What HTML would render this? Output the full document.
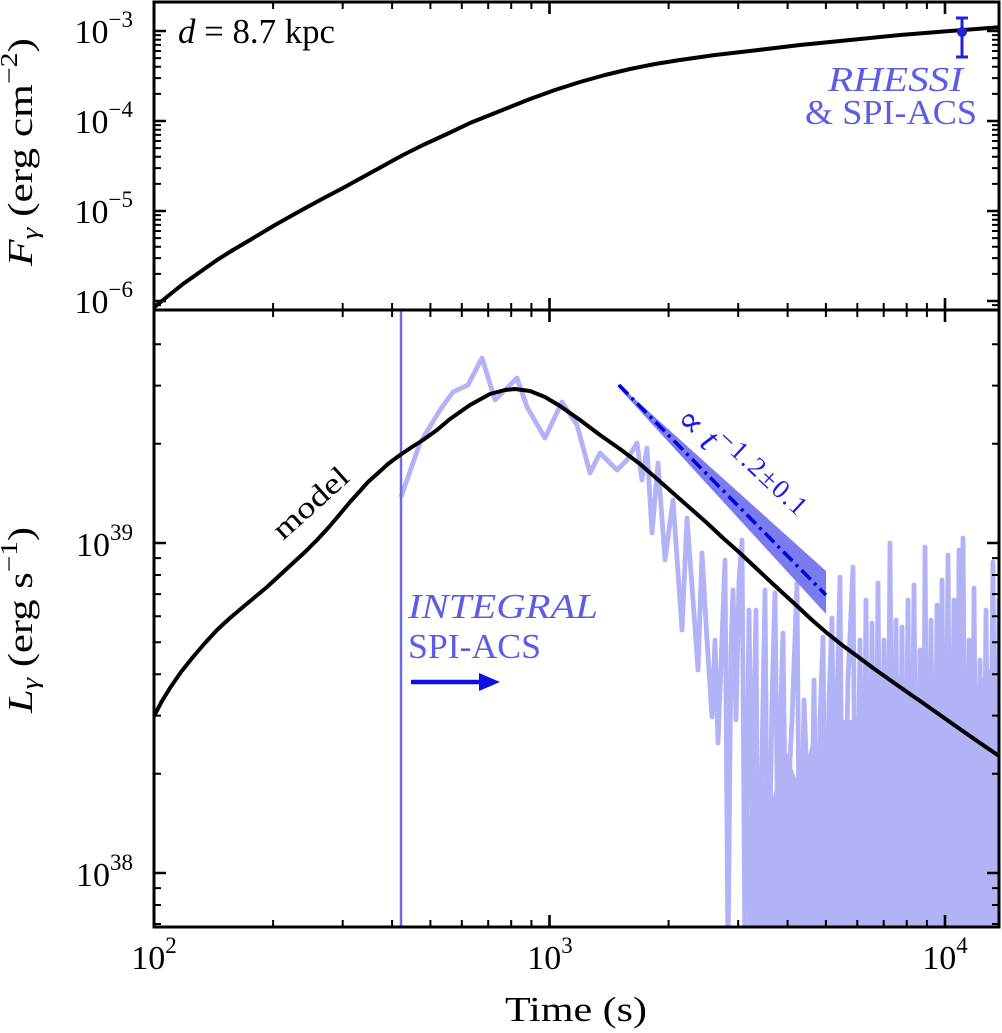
<!DOCTYPE html>
<html>
<head>
<meta charset="utf-8">
<style>
  html,body{margin:0;padding:0;background:#fff;}
  svg{display:block;}
  text{font-family:"Liberation Serif","DejaVu Serif",serif;}
</style>
</head>
<body>
<svg width="1002" height="1033" viewBox="0 0 1002 1033" xmlns="http://www.w3.org/2000/svg">
  <defs>
    <clipPath id="cTop"><rect x="154" y="2" width="845" height="308"/></clipPath>
    <clipPath id="cBot"><rect x="154" y="310" width="845" height="617"/></clipPath>
  </defs>
  <rect width="1002" height="1033" fill="#fff"/>

  <!-- ===== TOP PANEL ===== -->
  <g clip-path="url(#cTop)">
    <polyline fill="none" stroke="#000" stroke-width="4" stroke-linejoin="round"
      points="152,309 168,296 183,284 200,272 217,260 233,250 250,240 275,225 300,211 322,199 343,188 363,177 383,166 403,155 423,145 447,134 470,123 500,111 530,99 555,90 580,82 605,75 630,69 655,64 680,60 715,55 750,51 800,45 850,40 900,35 950,31 1002,27"/>
  </g>
  <!-- data point -->
  <g stroke="#2222dd" stroke-width="3" fill="#2222dd">
    <line x1="962" y1="18" x2="962" y2="57"/>
    <line x1="956" y1="18" x2="968" y2="18"/>
    <line x1="956" y1="57" x2="968" y2="57"/>
    <circle cx="962" cy="32" r="5" stroke="none"/>
  </g>
  <text x="178" y="43" font-size="35" textLength="157" lengthAdjust="spacingAndGlyphs"><tspan font-style="italic">d</tspan> = 8.7 kpc</text>
  <text x="828" y="91" font-size="35" font-style="italic" fill="#5c5ce6" textLength="135" lengthAdjust="spacingAndGlyphs">RHESSI</text>
  <text x="805" y="124" font-size="35" fill="#5c5ce6" textLength="172" lengthAdjust="spacingAndGlyphs">&amp; SPI-ACS</text>

  <!-- ===== BOTTOM PANEL ===== -->
  <g clip-path="url(#cBot)">
    <!-- dense fill regions under noisy tail -->
    <polygon fill="#b2b2f7" points="856,720 870,690 885,705 900,672 915,700 930,668 945,690 960,662 975,688 990,668 1002,680 1002,930 856,930"/>
    <polygon fill="#b2b2f7" points="748,820 760,770 772,800 786,750 800,790 812,740 826,770 840,720 856,720 856,930 748,930"/>
    <!-- noisy data -->
    <polyline fill="none" stroke="#b2b2f7" stroke-width="4.8" stroke-linejoin="round"
      points="401,497 420,443 440,410 453,392 468,385 482,358 495,400 517,378 527,407 545,438 562,402 577,425 590,473 600,453 617,470 627,460 637,443 642,480 647,448 652,533 658,463 665,560 673,500 682,630 687,518 693,600 698,670 702,553 707,640 712,717 715,640 718,743 725,560 728,960 731,650 733,590 736,720 739,580 742,540 745,960 749,610 752,830 756,610 758,960 760,870 765,590 768,960 772,700 775,593 779,960 781,700 783,633 787,960 790,760 792,720 797,583 800,960 804,700 807,780 810,960 814,680 818,960 820,720 823,637 826,960 829,700 832,618 835,960 837,700 840,577 843,960 848,680 853,567 856,960 860,640 863,960 866,600 869,960 872,623 875,960 878,583 881,960 884,640 887,960 890,543 893,960 896,620 899,960 902,627 905,960 908,600 911,960 914,585 917,960 920,650 923,960 925,547 928,960 931,620 934,960 937,605 940,960 942,580 945,960 948,555 951,960 954,600 957,960 959,550 961,960 963,538 966,960 969,640 972,960 974,588 977,960 980,660 983,960 986,610 989,960 993,562 996,960 999,600 1003,960"/>
    <!-- vertical line -->
    <line x1="401" y1="310" x2="401" y2="927" stroke="#6b6bec" stroke-width="2.5"/>
    <!-- power-law band -->
    <polygon points="618,384 826,571 826,614 618,387" fill="#7b7bf0"/>
    <line x1="619" y1="385" x2="826" y2="595" stroke="#0000dd" stroke-width="3.5" stroke-dasharray="13,5,3,5"/>
    <!-- model -->
    <polyline fill="none" stroke="#000" stroke-width="4" stroke-linejoin="round"
      points="154,716 162,701 170,688 181,672 193,657 205,643 217,630 230,618 243,607 255,597 267,587 280,575 293,563 305,552 317,540 329,527 340,514 350,502 360,491 368,482 377,474 388,464 400,455 412,447 423,440 437,430 450,419 470,405 490,394 505,390 515,389 530,391 545,397 560,406 580,420 600,435 620,449 640,464 656,478 673,493 690,508 707,523 723,538 740,553 757,569 773,584 785,595 797,606 812,620 827,633 842,645 857,656 873,668 890,680 907,692 923,703 940,715 957,727 980,743 1002,758"/>
  </g>
  <text transform="translate(283,541) rotate(-42)" font-size="30" textLength="92" lengthAdjust="spacingAndGlyphs">model</text>
  <text transform="translate(674,422) rotate(43)" font-size="36" fill="#1c1ce0">∝ <tspan font-style="italic">t</tspan><tspan font-size="27" dy="-15" letter-spacing="2">−1.2±0.1</tspan></text>
  <text x="408" y="618" font-size="35" font-style="italic" fill="#5c5ce6" textLength="190" lengthAdjust="spacingAndGlyphs">INTEGRAL</text>
  <text x="408" y="658" font-size="35" fill="#5c5ce6" textLength="133" lengthAdjust="spacingAndGlyphs">SPI-ACS</text>
  <line x1="411" y1="682" x2="482" y2="682" stroke="#1010e0" stroke-width="4.5"/>
  <polygon points="479,673 500,682 479,691" fill="#1010e0"/>

  <!-- ===== SPINES ===== -->
  <rect x="154" y="2" width="845" height="308" fill="none" stroke="#000" stroke-width="3"/>
  <rect x="154" y="310" width="845" height="617" fill="none" stroke="#000" stroke-width="3"/>

  <!-- ===== TICKS ===== -->
  <path fill="none" stroke="#000" stroke-width="2.6" d="
    M549.5 2v12M945 2v12M549.5 298v24M945 298v24M549.5 927v-12M945 927v-12
    M154 31h12M154 121h12M154 211h12M154 301h12
    M999 31h-12M999 121h-12M999 211h-12M999 301h-12
    M154 543h12M154 873h12M999 543h-12M999 873h-12"/>
  <path fill="none" stroke="#000" stroke-width="2" d="
    M273.1 2v7M273.1 303v14M273.1 927v-7
    M342.7 2v7M342.7 303v14M342.7 927v-7
    M392.1 2v7M392.1 303v14M392.1 927v-7
    M430.4 2v7M430.4 303v14M430.4 927v-7
    M461.8 2v7M461.8 303v14M461.8 927v-7
    M488.2 2v7M488.2 303v14M488.2 927v-7
    M511.2 2v7M511.2 303v14M511.2 927v-7
    M531.4 2v7M531.4 303v14M531.4 927v-7
    M668.6 2v7M668.6 303v14M668.6 927v-7
    M738.2 2v7M738.2 303v14M738.2 927v-7
    M787.6 2v7M787.6 303v14M787.6 927v-7
    M825.9 2v7M825.9 303v14M825.9 927v-7
    M857.3 2v7M857.3 303v14M857.3 927v-7
    M883.7 2v7M883.7 303v14M883.7 927v-7
    M906.7 2v7M906.7 303v14M906.7 927v-7
    M926.9 2v7M926.9 303v14M926.9 927v-7
    M154 93.9h7M154 78.1h7M154 66.8h7M154 58.1h7M154 51h7M154 44.9h7M154 39.7h7M154 35.1h7
    M154 183.9h7M154 168.1h7M154 156.8h7M154 148.1h7M154 141h7M154 134.9h7M154 129.7h7M154 125.1h7
    M154 273.9h7M154 258.1h7M154 246.8h7M154 238.1h7M154 231h7M154 224.9h7M154 219.7h7M154 215.1h7
    M154 305.1h7
    M999 93.9h-7M999 78.1h-7M999 66.8h-7M999 58.1h-7M999 51h-7M999 44.9h-7M999 39.7h-7M999 35.1h-7
    M999 183.9h-7M999 168.1h-7M999 156.8h-7M999 148.1h-7M999 141h-7M999 134.9h-7M999 129.7h-7M999 125.1h-7
    M999 273.9h-7M999 258.1h-7M999 246.8h-7M999 238.1h-7M999 231h-7M999 224.9h-7M999 219.7h-7M999 215.1h-7
    M999 305.1h-7
    M154 344.3h7M154 385.6h7M154 443.7h7M154 558.1h7M154 575h7M154 594.1h7M154 616.2h7M154 642.3h7M154 674.3h7M154 715.6h7M154 773.7h7M154 888.1h7M154 905h7M154 924h7
    M999 344.3h-7M999 385.6h-7M999 443.7h-7M999 558.1h-7M999 575h-7M999 594.1h-7M999 616.2h-7M999 642.3h-7M999 674.3h-7M999 715.6h-7M999 773.7h-7M999 888.1h-7M999 905h-7M999 924h-7"/>

  <!-- ===== TICK LABELS ===== -->
  <g font-size="34" text-anchor="end">
    <text x="133" y="43">10<tspan font-size="23" dy="-16">−3</tspan></text>
    <text x="133" y="133">10<tspan font-size="23" dy="-16">−4</tspan></text>
    <text x="133" y="223">10<tspan font-size="23" dy="-16">−5</tspan></text>
    <text x="133" y="313">10<tspan font-size="23" dy="-16">−6</tspan></text>
    <text x="133" y="556">10<tspan font-size="23" dy="-16">39</tspan></text>
    <text x="133" y="886">10<tspan font-size="23" dy="-16">38</tspan></text>
  </g>
  <g font-size="34" text-anchor="middle">
    <text x="154" y="969">10<tspan font-size="23" dy="-16">2</tspan></text>
    <text x="550" y="969">10<tspan font-size="23" dy="-16">3</tspan></text>
    <text x="945" y="969">10<tspan font-size="23" dy="-16">4</tspan></text>
  </g>

  <!-- ===== AXIS LABELS ===== -->
  <text x="576" y="1021" font-size="35" text-anchor="middle" textLength="142" lengthAdjust="spacingAndGlyphs">Time (s)</text>
  <text transform="translate(32,152) rotate(-90)" font-size="35" text-anchor="middle" textLength="228" lengthAdjust="spacingAndGlyphs"><tspan font-style="italic">F</tspan><tspan font-style="italic" font-size="24" dy="6">γ</tspan><tspan dy="-6"> (erg cm</tspan><tspan font-size="24" dy="-15">−2</tspan><tspan dy="15">)</tspan></text>
  <text transform="translate(32,620) rotate(-90)" font-size="35" text-anchor="middle" textLength="186" lengthAdjust="spacingAndGlyphs"><tspan font-style="italic">L</tspan><tspan font-style="italic" font-size="24" dy="6">γ</tspan><tspan dy="-6"> (erg s</tspan><tspan font-size="24" dy="-15">−1</tspan><tspan dy="15">)</tspan></text>
</svg>
</body>
</html>
